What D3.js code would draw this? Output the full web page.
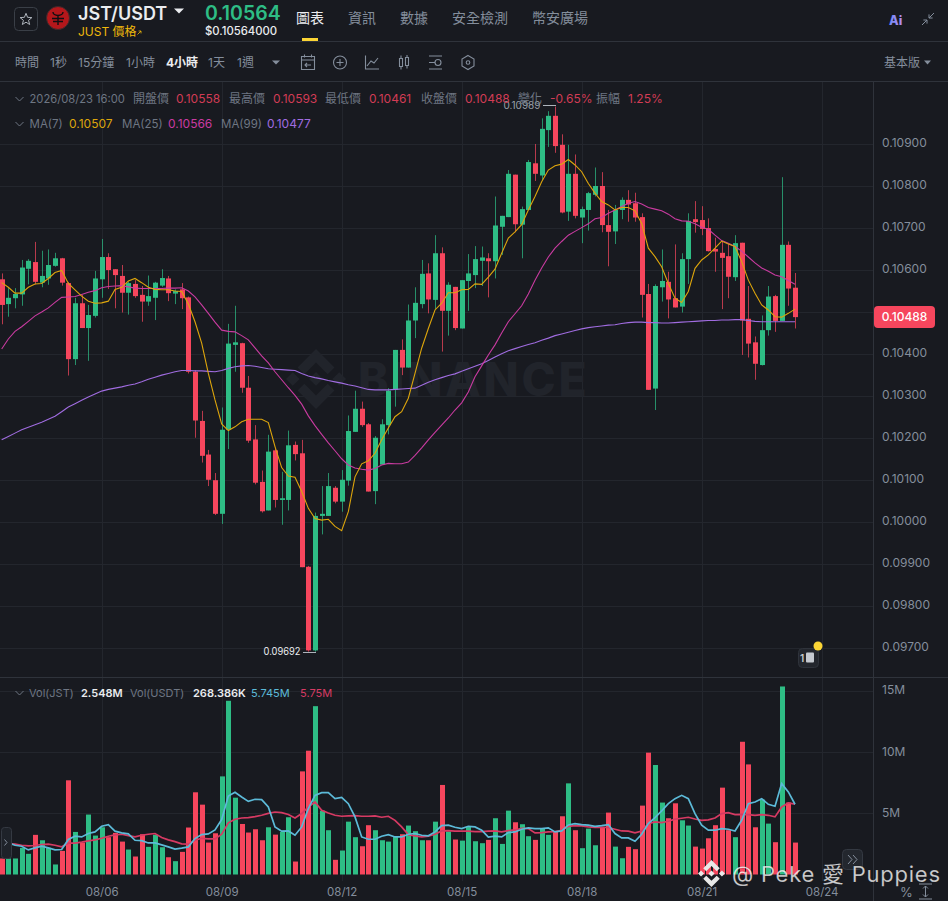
<!DOCTYPE html>
<html><head><meta charset="utf-8">
<script src="https://cdn.jsdelivr.net/npm/d3@7"></script>
<style>
html,body{margin:0;padding:0;background:#181A20;overflow:hidden}
svg{display:block}
text{font-family:Inter,"Noto Sans CJK TC","Noto Sans",sans-serif}
</style></head><body><div id="c"></div>
<script>
// Prices are in units of 0.00001 USDT, volumes in millions of JST.
const opens=[10578,10519,10533,10542,10603,10619,10570,10580,10610,10628,10569,10388,10521,10462,10491,10578,10631,10602,10586,10546,10567,10541,10525,10534,10563,10580,10544,10554,10535,10358,10241,10161,10100,10020,10220,10422,10426,10320,10197,10096,10028,10171,10053,10053,10184,10164,9894,9695,10015,10015,10082,10049,10099,10215,10270,10233,10074,10137,10231,10315,10410,10368,10480,10519,10592,10529,10640,10503,10560,10461,10574,10588,10622,10628,10621,10703,10726,10827,10708,10743,10854,10825,10933,10967,10898,10739,10829,10725,10743,10779,10800,10707,10692,10743,10767,10759,10726,10543,10318,10559,10572,10533,10513,10626,10721,10719,10700,10650,10641,10633,10583,10665,10484,10428,10374,10457,10538,10479,10660,10558];
const highs=[10592,10557,10557,10624,10626,10667,10646,10649,10641,10629,10572,10534,10541,10517,10598,10674,10640,10602,10612,10572,10576,10562,10587,10572,10602,10586,10554,10569,10537,10362,10265,10172,10117,10273,10472,10515,10427,10348,10231,10123,10208,10174,10120,10218,10192,10196,9896,10023,10086,10117,10086,10124,10254,10313,10287,10236,10205,10245,10319,10410,10435,10518,10559,10624,10616,10683,10654,10571,10560,10576,10638,10657,10656,10640,10775,10729,10838,10827,10751,10862,10900,10961,10978,10989,10923,10898,10875,10751,10786,10844,10833,10743,10755,10773,10790,10784,10735,10567,10566,10649,10596,10661,10640,10735,10764,10752,10723,10677,10669,10662,10683,10665,10562,10442,10492,10562,10541,10821,10668,10593];
const lows=[10471,10489,10509,10515,10566,10566,10559,10565,10608,10563,10349,10374,10462,10384,10487,10534,10555,10509,10499,10494,10534,10477,10515,10481,10560,10526,10519,10507,10354,10201,10142,10086,10017,9996,10174,10358,10308,10189,10090,10023,10028,10035,9994,10028,10147,9893,9692,9692,9971,10015,10045,10025,10087,10215,10227,10073,10043,10137,10209,10275,10350,10368,10438,10509,10497,10507,10406,10444,10457,10461,10503,10557,10562,10535,10580,10636,10726,10690,10628,10743,10812,10814,10893,10879,10735,10717,10723,10664,10694,10775,10690,10609,10662,10721,10715,10715,10487,10315,10267,10525,10485,10511,10499,10567,10689,10683,10644,10596,10507,10533,10574,10398,10392,10339,10373,10444,10453,10479,10515,10461];
const closes=[10517,10534,10543,10606,10622,10572,10586,10612,10628,10570,10388,10521,10462,10493,10580,10631,10600,10588,10546,10569,10538,10525,10538,10570,10581,10545,10550,10533,10358,10242,10158,10101,10020,10220,10425,10428,10320,10194,10094,10026,10168,10053,10057,10183,10162,9893,9695,10015,10020,10086,10049,10101,10217,10270,10231,10073,10201,10233,10313,10410,10368,10480,10522,10591,10530,10640,10503,10565,10462,10576,10592,10626,10630,10621,10706,10729,10829,10709,10745,10857,10829,10936,10967,10895,10737,10829,10729,10745,10783,10800,10707,10691,10743,10767,10756,10725,10541,10315,10562,10574,10530,10511,10626,10717,10714,10698,10645,10644,10629,10584,10664,10480,10425,10377,10457,10537,10479,10660,10556,10488];
const ma7=[10570,10559,10545,10545,10559,10567,10568,10580,10594,10599,10568,10553,10538,10526,10521,10522,10526,10554,10559,10574,10580,10570,10559,10554,10553,10553,10550,10549,10519,10477,10426,10354,10291,10234,10218,10227,10239,10245,10245,10245,10237,10180,10130,10110,10107,10073,10033,10009,10005,10007,9990,9980,10025,10108,10139,10146,10164,10196,10224,10251,10263,10295,10354,10414,10461,10505,10521,10546,10546,10553,10554,10567,10566,10583,10602,10640,10676,10691,10708,10743,10775,10810,10838,10848,10852,10863,10850,10834,10806,10783,10763,10755,10743,10749,10749,10741,10711,10652,10632,10608,10568,10533,10523,10549,10604,10624,10636,10652,10669,10662,10656,10620,10576,10545,10517,10505,10489,10488,10497,10507];
const ma25=[10412,10436,10454,10465,10478,10491,10500,10510,10523,10535,10536,10537,10542,10547,10551,10558,10561,10562,10563,10560,10557,10556,10556,10556,10556,10557,10557,10558,10550,10536,10517,10497,10476,10457,10454,10453,10444,10434,10415,10396,10379,10358,10339,10320,10302,10281,10253,10230,10209,10189,10170,10151,10136,10129,10126,10124,10128,10136,10140,10139,10139,10143,10159,10177,10196,10214,10231,10248,10267,10284,10310,10346,10372,10398,10422,10450,10477,10496,10515,10543,10576,10605,10631,10652,10668,10683,10692,10701,10710,10722,10725,10735,10743,10751,10759,10763,10757,10749,10745,10741,10733,10722,10717,10716,10710,10702,10697,10683,10670,10664,10656,10645,10631,10617,10605,10597,10588,10584,10575,10566];
const ma99=[10196,10204,10212,10220,10226,10232,10238,10245,10252,10263,10274,10282,10290,10298,10305,10312,10316,10319,10322,10326,10329,10334,10340,10345,10350,10354,10358,10361,10361,10360,10360,10359,10358,10361,10366,10370,10372,10373,10371,10368,10365,10364,10363,10362,10361,10354,10348,10344,10341,10337,10334,10331,10327,10324,10320,10316,10315,10315,10315,10316,10317,10318,10319,10326,10333,10339,10344,10349,10353,10359,10365,10371,10377,10385,10393,10401,10408,10413,10418,10423,10427,10433,10438,10444,10448,10452,10456,10460,10463,10465,10467,10469,10470,10473,10475,10476,10476,10475,10475,10474,10474,10475,10476,10477,10478,10479,10480,10480,10481,10481,10482,10482,10480,10478,10477,10477,10477,10477,10477,10477];
const volumes=[1.31,1.31,1.31,2.18,1.69,3.24,2.8,2.18,0.82,1.93,7.7,3.48,2.61,4.9,3.18,3.86,3.05,3.4,2.69,2.04,1.47,3.29,2.26,3.24,2.23,1.41,1.09,1.85,3.84,6.72,5.71,2.61,3.37,8.02,14.2,6.28,4.13,3.43,3.7,2.8,3.86,3.26,3.48,4.68,1.06,8.43,10.12,13.76,5.22,3.62,1.2,1.96,4.32,3.05,2.31,4.03,3.62,2.8,2.69,3.07,3.29,4.0,3.54,2.8,2.8,4.32,7.32,3.51,2.86,2.77,3.89,2.72,2.56,2.83,4.6,2.5,5.22,4.27,4.11,3.13,2.83,3.8,3.24,3.56,4.76,7.45,3.62,2.15,3.75,2.39,3.89,5.06,2.28,1.33,2.26,2.07,5.63,9.96,8.95,5.88,4.6,5.82,4.43,4.0,2.28,2.12,2.96,4.03,7.1,3.62,3.05,10.85,9.0,3.86,6.12,4.16,2.64,15.37,5.88,2.61];
const volMaJst=[2.67,2.58,2.39,2.31,2.01,2.18,2.31,2.18,2.01,2.04,2.86,3.13,3.07,3.35,3.48,3.94,4.08,3.54,3.40,3.32,2.80,2.77,2.58,2.58,2.42,2.26,2.07,2.15,2.26,2.94,3.26,3.32,3.64,4.49,6.42,6.72,6.34,5.98,6.15,6.12,5.52,3.89,3.54,3.56,3.21,3.89,5.39,6.47,6.69,6.69,6.20,6.31,5.79,4.71,3.07,2.88,2.88,3.13,3.26,3.07,3.07,3.29,3.35,3.21,3.16,3.48,4.00,4.03,3.86,3.75,3.94,3.89,3.62,3.05,3.13,3.07,3.43,3.48,3.70,3.81,3.75,3.75,3.81,3.48,3.56,4.05,4.16,4.08,4.03,3.94,4.00,4.08,3.35,2.99,2.99,2.72,3.29,4.16,4.65,5.20,5.79,6.20,6.47,6.20,4.98,4.03,3.62,3.62,3.75,3.70,3.56,4.43,5.79,5.93,6.20,5.74,5.58,7.43,6.75,5.745];
const volMaUsdt=[2.58,2.53,2.48,2.39,2.34,2.37,2.45,2.48,2.39,2.26,2.56,2.56,2.64,2.75,2.83,2.96,3.13,3.24,3.29,3.18,3.07,3.21,3.29,3.35,3.02,2.83,2.69,2.50,2.48,2.80,2.96,2.91,2.91,3.29,4.22,4.52,4.62,4.65,4.73,4.84,5.00,5.11,5.06,4.90,4.62,4.98,5.52,5.93,5.25,5.03,4.84,4.76,4.79,4.81,4.76,4.76,4.79,4.68,4.76,4.43,3.89,3.26,3.16,3.07,3.13,3.29,3.56,3.59,3.54,3.54,3.54,3.51,3.51,3.54,3.56,3.48,3.59,3.64,3.78,3.75,3.40,3.43,3.48,3.51,3.62,3.94,4.00,3.97,3.89,3.86,3.86,3.84,3.70,3.56,3.54,3.40,3.56,4.16,4.30,4.24,4.35,4.52,4.60,4.68,4.54,4.43,4.46,4.62,4.98,5.06,4.90,4.92,4.90,4.84,4.90,4.84,4.71,5.52,5.85,5.75];
const priceGrid=[10900,10800,10700,10600,10500,10400,10300,10200,10100,10000,9900,9800,9700];
const priceLabels=[10900,10800,10700,10600,10400,10300,10200,10100,10000,9900,9800,9700];
const volTicks=[5,10,15];
const dateTickIndex=[15,33,51,69,87,105,123];
const dateLabels=["08/06","08/09","08/12","08/15","08/18","08/21","08/24"];
const tabs=["圖表","資訊","數據","安全檢測","幣安廣場"];
const intervals=["時間","1秒","15分鐘","1小時","4小時","1天","1週"];

const W=948,H=901,axisX=873;
const GREEN="#2EBD85",RED="#F6465D",GREY="#848E9C",DIM="#6E7683",GRID="#23262D",LINE="#2F333B",WHITE="#EAECEF",YEL="#F0B90B";
const C7="#DDA50C",C25="#C93BA0",C99="#A06CE0",CVALUE="#D23C55",CJST="#5CBAD8",CUSDT="#D63A63";
const LOGO="M38.73 53.2l24.59-24.58 24.6 24.6 14.3-14.31L63.32 0 24.42 38.9zM0 63.31l14.3-14.31 14.31 14.31-14.31 14.3zM38.73 73.41l24.59 24.59 24.6-24.6 14.31 14.29-38.9 38.91-38.91-38.88zM98 63.31l14.3-14.31 14.31 14.3-14.31 14.32zM77.83 63.3L63.32 48.78 52.59 59.51l-1.24 1.23-2.54 2.54 14.51 14.5 14.51-14.47z";
const svg=d3.select("#c").append("svg").attr("width",W).attr("height",H).attr("viewBox",`0 0 ${W} ${H}`);
svg.append("rect").attr("width",W).attr("height",H).attr("fill","#181A20");
const x=d3.scaleLinear().domain([0,119]).range([1.67,795]);
const y=d3.scaleLinear().domain([10800,9700]).range([186,648.3]);
const v=d3.scaleLinear().domain([0,15]).range([874.5,691]);
const n=opens.length, idx=d3.range(n);
const txt=(s,px,py,o={})=>svg.append("text").attr("x",px).attr("y",py).attr("dy",".35em").text(s)
  .attr("fill",o.fill||GREY).attr("font-size",o.size||12).attr("font-weight",o.weight||400).attr("text-anchor",o.anchor||"start");

// ---- grid
svg.append("g").selectAll("line").data(dateTickIndex).join("line").attr("x1",d=>Math.round(x(d))+.5).attr("x2",d=>Math.round(x(d))+.5).attr("y1",82).attr("y2",881).attr("stroke",GRID);
const gridY=svg.append("g");
gridY.selectAll("line.p").data(priceGrid).join("line").attr("class","p").attr("x1",0).attr("x2",axisX).attr("y1",d=>Math.round(y(d))+.5).attr("y2",d=>Math.round(y(d))+.5).attr("stroke",GRID);
gridY.selectAll("line.v").data(volTicks).join("line").attr("class","v").attr("x1",0).attr("x2",axisX).attr("y1",d=>Math.round(v(d))+.5).attr("y2",d=>Math.round(v(d))+.5).attr("stroke",GRID);

// ---- background watermark
svg.append("path").attr("transform","translate(286,349) scale(.474)").attr("d",LOGO).attr("fill","#21242B");
svg.append("text").attr("x",358).attr("y",396).text("BINANCE").attr("font-size",46).attr("font-weight",800).attr("letter-spacing",2.8).attr("fill","#21242B");

// ---- candles
const gC=svg.append("g");
gC.selectAll("line").data(idx).join("line")
  .attr("x1",i=>Math.round(x(i))+.5).attr("x2",i=>Math.round(x(i))+.5)
  .attr("y1",i=>y(highs[i])).attr("y2",i=>y(lows[i]))
  .attr("stroke",i=>closes[i]>=opens[i]?GREEN:RED).attr("stroke-opacity",.72);
gC.selectAll("rect").data(idx).join("rect")
  .attr("x",i=>Math.round(x(i))-2).attr("width",5)
  .attr("y",i=>y(Math.max(opens[i],closes[i])))
  .attr("height",i=>Math.max(1,Math.abs(y(opens[i])-y(closes[i]))))
  .attr("fill",i=>closes[i]>=opens[i]?GREEN:RED);

// ---- moving averages
const priceLine=d3.line().x((d,i)=>x(i)).y(d=>y(d));
svg.append("path").attr("d",priceLine(ma99)).attr("fill","none").attr("stroke",C99).attr("stroke-width",1.1);
svg.append("path").attr("d",priceLine(ma25)).attr("fill","none").attr("stroke",C25).attr("stroke-width",1.1);
svg.append("path").attr("d",priceLine(ma7)).attr("fill","none").attr("stroke",C7).attr("stroke-width",1.1);

// ---- volume
svg.append("g").selectAll("rect").data(idx).join("rect")
  .attr("x",i=>Math.round(x(i))-2).attr("width",5)
  .attr("y",i=>v(volumes[i])).attr("height",i=>v(0)-v(volumes[i]))
  .attr("fill",i=>closes[i]>=opens[i]?GREEN:RED);
const volLine=d3.line().x((d,i)=>x(i)).y(d=>v(d));
svg.append("path").attr("d",volLine(volMaUsdt)).attr("fill","none").attr("stroke",CUSDT).attr("stroke-width",1.7);
svg.append("path").attr("d",volLine(volMaJst)).attr("fill","none").attr("stroke",CJST).attr("stroke-width",1.7);

// ---- axes
const style=(g)=>{g.select(".domain").remove();g.selectAll(".tick line").remove();g.selectAll("text").attr("fill",GREY).attr("font-size",12).attr("font-family",'Inter,"Noto Sans",sans-serif');};
svg.append("g").attr("transform",`translate(${axisX},-1.5)`)
  .call(d3.axisRight(y).tickValues(priceLabels).tickSize(0).tickPadding(9).tickFormat(d=>(d/1e5).toFixed(5))).call(style);
svg.append("g").attr("transform",`translate(${axisX},-1)`)
  .call(d3.axisRight(v).tickValues(volTicks).tickSize(0).tickPadding(9).tickFormat(d=>d+"M")).call(style);
svg.append("g").attr("transform","translate(0,881)")
  .call(d3.axisBottom(x).tickValues(dateTickIndex).tickSize(0).tickPadding(7).tickFormat((d,i)=>dateLabels[i])).call(style)
  .selectAll("text").attr("font-size",11.5);
svg.append("line").attr("x1",axisX+.5).attr("x2",axisX+.5).attr("y1",82).attr("y2",H).attr("stroke",LINE);
svg.append("line").attr("x1",0).attr("x2",W).attr("y1",677.5).attr("y2",677.5).attr("stroke",LINE);

// ---- extreme labels
const hi=83,lo=46;
svg.append("line").attr("x1",543).attr("x2",556).attr("y1",105.5).attr("y2",105.5).attr("stroke","#AEB4BC");
txt((highs[hi]/1e5).toFixed(5),540.5,105,{size:10,anchor:"end",fill:"#9AA1AB"}).attr("textLength",37).attr("lengthAdjust","spacingAndGlyphs");
svg.append("line").attr("x1",303).attr("x2",316).attr("y1",652.5).attr("y2",652.5).attr("stroke","#AEB4BC");
txt((lows[lo]/1e5).toFixed(5),300.5,651,{size:10,anchor:"end",fill:WHITE}).attr("textLength",37).attr("lengthAdjust","spacingAndGlyphs");

// ---- last price tag
svg.append("rect").attr("x",874).attr("y",306).attr("width",61).attr("height",22).attr("rx",4).attr("fill",RED);
txt((closes[n-1]/1e5).toFixed(5),904.5,317,{anchor:"middle",fill:"#fff",size:12,weight:500});

// ---- header
const rule=(yy)=>svg.append("line").attr("x1",0).attr("x2",W).attr("y1",yy+.5).attr("y2",yy+.5).attr("stroke",LINE);
rule(41);rule(81);
svg.append("rect").attr("x",14.5).attr("y",7.5).attr("width",23).attr("height",23).attr("rx",4).attr("fill","none").attr("stroke","#3A3F47");
svg.append("path").attr("d",star(26,19.5,6.2,2.7)).attr("fill","none").attr("stroke","#AEB4BC").attr("stroke-width",1);
svg.append("circle").attr("cx",58).attr("cy",18).attr("r",11.5).attr("fill","#B4171B").attr("stroke","#3c2a2c").attr("stroke-width",1);
svg.append("path").attr("d","M53 12a5 3.5 0 0 0 10 0M52 18.5H64M53 21.5H63M58 15V25").attr("fill","none").attr("stroke","#0f0f12").attr("stroke-width",1.4);
txt("JST/USDT",78,13.5,{size:18,weight:600,fill:WHITE});
svg.append("path").attr("d","M174 8.5h10l-5 5z").attr("fill",WHITE);
txt("JUST 價格",78,31.5,{size:12,fill:YEL});
svg.append("path").attr("d","M137.5 34.5l3.5-3.5m-2.4 0H141v2.4").attr("fill","none").attr("stroke",YEL).attr("stroke-width",.8);
txt("0.10564",205,13,{size:19.5,weight:600,fill:GREEN});
txt("$0.10564000",205,31.5,{size:11.3,weight:500,fill:WHITE});
const tabX=[296,348,400,452,532];
tabs.forEach((t,i)=>txt(t,tabX[i],18.5,{size:14,fill:i==0?WHITE:GREY}));
svg.append("rect").attr("x",302).attr("y",38).attr("width",16).attr("height",3).attr("fill","#FCD535");
const ai=svg.append("defs").append("linearGradient").attr("id","ai");
ai.append("stop").attr("offset","0").attr("stop-color","#6E8BF7");ai.append("stop").attr("offset","1").attr("stop-color","#B68CF0");
txt("Ai",889,21,{size:12.5,weight:800,fill:"url(#ai)"});
svg.append("path").attr("d","M922 25l5-5m-3.6 0H927v3.6M934 13l-5 5m3.6 0H929v-3.6").attr("fill","none").attr("stroke",GREY).attr("stroke-width",1);

// ---- toolbar
const intX=[15,50,78,126,166,208,237];
intervals.forEach((t,i)=>txt(t,intX[i],63,{size:12,fill:i==4?WHITE:GREY,weight:i==4?700:400}));
svg.append("path").attr("d","M272 60.5h8l-4 4z").attr("fill",GREY);
const ic=svg.append("g").attr("fill","none").attr("stroke",GREY).attr("stroke-width",1.1);
ic.append("path").attr("d","M301.5 56.5h13v13h-13zM301.5 60h13M304.5 54.5v3M311.5 54.5v3M311 65h-6m2-2l-2 2 2 2");
ic.append("circle").attr("cx",340).attr("cy",62.5).attr("r",6.5);
ic.append("path").attr("d","M336.5 62.5h7M340 59v7");
ic.append("path").attr("d","M365.5 55.5v13.5h13.5M367 66l4-5 3 2 4-5");
ic.append("path").attr("d","M399.5 58.5h3v8h-3zM405.5 57.5h3v8h-3zM401 55.5v3M401 66.5v3M407 55v3M407 65.5v3");
ic.append("path").attr("d","M429 56h13M429 69h13M429 62.5h6");
ic.append("circle").attr("cx",438).attr("cy",62.5).attr("r",3);
ic.append("path").attr("d","M468 55.5l6 3.5v7l-6 3.5-6-3.5v-7z");
ic.append("circle").attr("cx",468).attr("cy",62.5).attr("r",1.8);
txt("基本版",884,63,{size:12});
svg.append("path").attr("d","M924 60.5h7l-3.5 4z").attr("fill",GREY);

// ---- legends
const chev=(yy)=>svg.append("path").attr("d",`M15.5 ${yy-2}l4 4 4-4`).attr("fill","none").attr("stroke",DIM);
chev(99);chev(124);chev(693);
const legendNames=["開盤價","最高價","最低價","收盤價"],legendVals=[opens[n-1],highs[n-1],lows[n-1],closes[n-1]];
const nameX=[133,229,325,421],valX=[176,273,369,465];
txt("2026/08/23 16:00",29.5,99,{size:11.2,fill:DIM});
legendNames.forEach((t,i)=>{txt(t,nameX[i],99,{size:12,fill:DIM});txt((legendVals[i]/1e5).toFixed(5),valX[i],99,{size:12,fill:CVALUE});});
txt("變化",518,99,{size:12,fill:DIM});txt("-0.65%",550,99,{size:12,fill:CVALUE});
txt("振幅",596,99,{size:12,fill:DIM});txt("1.25%",628,99,{size:12,fill:CVALUE});
txt("MA(7)",29.5,124,{size:11.5,fill:DIM});txt((ma7[n-1]/1e5).toFixed(5),69,124,{size:12,fill:C7});
txt("MA(25)",122,124,{size:11.5,fill:DIM});txt((ma25[n-1]/1e5).toFixed(5),168,124,{size:12,fill:C25});
txt("MA(99)",221,124,{size:11.5,fill:DIM});txt((ma99[n-1]/1e5).toFixed(5),267,124,{size:12,fill:C99});
txt("Vol(JST)",29,693.5,{size:11,fill:DIM});txt("2.548M",81,693.5,{size:11,weight:600,fill:WHITE});
txt("Vol(USDT)",130,693.5,{size:11,fill:DIM});txt("268.386K",193,693.5,{size:11,weight:600,fill:WHITE});
txt("5.745M",251,693.5,{size:11,fill:CJST});txt("5.75M",300,693.5,{size:11,fill:CUSDT});

// ---- widgets
svg.append("rect").attr("x",1.5).attr("y",827.5).attr("width",10).attr("height",31).attr("rx",3).attr("fill","#1E2229").attr("stroke","#343942");
svg.append("path").attr("d","M4.5 839.5l2.5 3-2.5 3").attr("fill","none").attr("stroke",GREY);
svg.append("rect").attr("x",798.5).attr("y",648.5).attr("width",20).attr("height",19).attr("rx",4).attr("fill","#23262D").attr("stroke","#2F333B");
svg.append("text").attr("x",800).attr("y",662).text("1").attr("font-size",10).attr("font-weight",600).attr("fill","#C5C9D0");
svg.append("rect").attr("x",806).attr("y",652.5).attr("width",8).attr("height",10).attr("rx",1).attr("fill","#C5C9D0");
svg.append("circle").attr("cx",818).attr("cy",646).attr("r",4.5).attr("fill","#FCD535");
svg.append("rect").attr("x",842.5).attr("y",849.5).attr("width",20).attr("height",20).attr("rx",4).attr("fill","#23272E").attr("stroke","#343942");
svg.append("path").attr("d","M848 855l4 4.5-4 4.5M853 855l4 4.5-4 4.5").attr("fill","none").attr("stroke",GREY);
txt("%",900,892,{size:13});
svg.append("path").attr("d","M919 884h13M919 899h13M925.5 886v11m-2.5-8.5l2.5-2.5 2.5 2.5m-5 6l2.5 2.5 2.5-2.5").attr("fill","none").attr("stroke",GREY);

// ---- photo watermark
svg.append("path").attr("transform","translate(698,860) scale(.213)").attr("d",LOGO).attr("fill","#E8E8E8");
svg.append("text").attr("x",732).attr("y",882).text("@ Peke 愛 Puppies").attr("font-size",22).attr("letter-spacing",.75).attr("fill","#fff").attr("fill-opacity",.78).attr("font-family",'"Noto Sans","Noto Sans CJK TC",sans-serif').attr("stroke","#000").attr("stroke-opacity",.25).attr("stroke-width",.4);

function star(cx,cy,R,r){const p=[];for(let k=0;k<10;k++){const a=-Math.PI/2+k*Math.PI/5,q=k%2?r:R;p.push([cx+q*Math.cos(a),cy+q*Math.sin(a)]);}return "M"+p.map(d=>d.join(",")).join("L")+"Z";}
</script></body></html>
